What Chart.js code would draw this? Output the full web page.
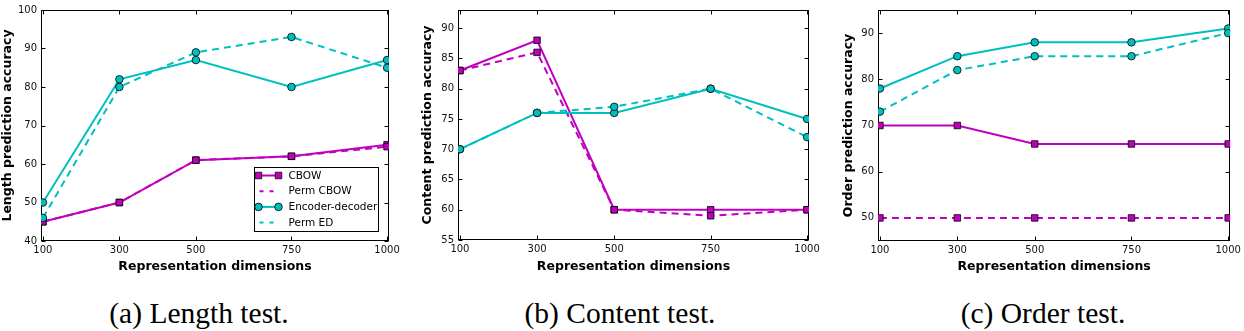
<!DOCTYPE html>
<html>
<head>
<meta charset="utf-8">
<script src="https://cdn.jsdelivr.net/npm/chart.js@4.4.1/dist/chart.umd.min.js"></script>
<style>
  body { margin: 0; background: #fff; width: 1244px; height: 331px; position: relative; overflow: hidden; }
  .panel { position: absolute; top: 0; }
  .cap { position: absolute; top: 299px; font-family: 'Liberation Serif', 'Times New Roman', serif; font-size: 29.5px; line-height: 28px; white-space: nowrap; transform: translateX(-50%); color: #000; }
</style>
</head>
<body>
<div class="panel" style="left:0px"><canvas id="c1" width="410" height="290"></canvas></div>
<div class="panel" style="left:410px"><canvas id="c2" width="420" height="290"></canvas></div>
<div class="panel" style="left:830px"><canvas id="c3" width="414" height="290"></canvas></div>
<div class="cap" style="left:199px">(a) Length test.</div>
<div class="cap" style="left:620px">(b) Content test.</div>
<div class="cap" style="left:1043px">(c) Order test.</div>
<script>
// x positions (representation dimensions)
const dims = [100, 300, 500, 750, 1000];
const seriesNames = ['CBOW', 'Perm CBOW', 'Encoder-decoder', 'Perm ED'];

// (a) length test
const lengthCbow = [45, 50, 61, 62, 65];
const lengthPermCbow = [45, 50, 61, 62, 64.5];
const lengthEncDec = [50, 82, 87, 80, 87];
const lengthPermEd = [46, 80, 89, 93, 85];
const lengthTicks = [40, 50, 60, 70, 80, 90, 100];

// (b) content test
const contentCbow = [83, 88, 60, 60, 60];
const contentPermCbow = [83, 86, 60, 59, 60];
const contentEncDec = [70, 76, 76, 80, 75];
const contentPermEd = [70, 76, 77, 80, 72];
const contentTicks = [55, 60, 65, 70, 75, 80, 85, 90];

// (c) order test
const orderCbow = [70, 70, 66, 66, 66];
const orderPermCbow = [50, 50, 50, 50, 50];
const orderEncDec = [78, 85, 88, 88, 91];
const orderPermEd = [73, 82, 85, 85, 90];
const orderTicks = [50, 60, 70, 80, 90];

const MAG = '#bf00bf';
const CYAN = '#00bfbf';
const DASH = [7, 5];

const styles = [
  { color: MAG, dash: [], marker: 'rect', r: 4.6 },
  { color: MAG, dash: DASH, marker: 'rect', r: 4.6 },
  { color: CYAN, dash: [], marker: 'circle', r: 3.8 },
  { color: CYAN, dash: DASH, marker: 'circle', r: 3.8 }
];

function makeDatasets(series) {
  return series.map((vals, i) => ({
    label: seriesNames[i],
    data: dims.map((x, j) => ({ x: x, y: vals[j] })),
    borderColor: styles[i].color,
    backgroundColor: styles[i].color,
    borderWidth: 2,
    borderDash: styles[i].dash,
    pointStyle: styles[i].marker,
    pointRadius: styles[i].r,
    pointBackgroundColor: styles[i].color,
    pointBorderColor: '#000',
    pointBorderWidth: 0.8,
    tension: 0,
    order: -i
  }));
}

// box around the plot + inward ticks on every side
const framePlugin = {
  id: 'frame',
  beforeDatasetsDraw(chart) {
    const { ctx, chartArea: a, scales } = chart;
    const L = Math.round(a.left) + 0.5, R = Math.round(a.right) - 0.5;
    const T = Math.round(a.top) + 0.5, B = Math.round(a.bottom) - 0.5;
    ctx.save();
    ctx.strokeStyle = '#000';
    ctx.lineWidth = 1;
    ctx.strokeRect(L, T, R - L, B - T);
    ctx.beginPath();
    scales.x.ticks.forEach(t => {
      const px = Math.round(scales.x.getPixelForValue(t.value)) + 0.5;
      ctx.moveTo(px, B); ctx.lineTo(px, B - 4);
      ctx.moveTo(px, T); ctx.lineTo(px, T + 4);
    });
    scales.y.ticks.forEach(t => {
      const py = Math.round(scales.y.getPixelForValue(t.value)) + 0.5;
      ctx.moveTo(L, py); ctx.lineTo(L + 4, py);
      ctx.moveTo(R, py); ctx.lineTo(R - 4, py);
    });
    ctx.stroke();
    ctx.restore();
  }
};

function marker(ctx, st, x, y) {
  ctx.beginPath();
  if (st.marker === 'rect') {
    const s = Math.SQRT1_2 * st.r;
    ctx.rect(x - s, y - s, 2 * s, 2 * s);
  } else {
    ctx.arc(x, y, st.r, 0, Math.PI * 2);
  }
  ctx.fillStyle = st.color;
  ctx.fill();
  ctx.lineWidth = 0.8;
  ctx.strokeStyle = '#000';
  ctx.stroke();
}

// legend box in panel (a), lower right
const legendPlugin = {
  id: 'boxLegend',
  afterDatasetsDraw(chart) {
    const { ctx, chartArea: a } = chart;
    const left = Math.round(a.right) - 135 + 0.5, right = Math.round(a.right) - 11 + 0.5;
    const bottom = Math.round(a.bottom) - 10 + 0.5, top = bottom - 64;
    ctx.save();
    ctx.fillStyle = '#fff';
    ctx.fillRect(left, top, right - left, bottom - top);
    ctx.strokeStyle = '#000';
    ctx.lineWidth = 1;
    ctx.strokeRect(left, top, right - left, bottom - top);
    ctx.font = '10.5px "DejaVu Sans"';
    ctx.textBaseline = 'middle';
    seriesNames.forEach((name, i) => {
      const st = styles[i];
      const y = top + 8 + i * 15.7;
      const x0 = left + 4, x1 = left + 24;
      ctx.beginPath();
      ctx.setLineDash(st.dash.length ? [4, 6] : []);
      ctx.strokeStyle = st.color;
      ctx.lineWidth = 2;
      if (st.dash.length) { ctx.moveTo(x0 + 1, y); ctx.lineTo(x1 + 1, y); }
      else { ctx.moveTo(x0, y); ctx.lineTo(x1, y); }
      ctx.stroke();
      ctx.setLineDash([]);
      if (!st.dash.length) { marker(ctx, st, x0, y); marker(ctx, st, x1, y); }
      ctx.fillStyle = '#000';
      ctx.fillText(name, left + 34, y + 0.5);
    });
    ctx.restore();
  }
};

function makeChart(id, series, yTitle, yMin, yMax, yTicks, box, legend) {
  const tickFont = { family: 'DejaVu Sans', size: 10 };
  const titleFont = { family: 'DejaVu Sans', size: 12.5, weight: 'bold' };
  return new Chart(document.getElementById(id), {
    type: 'line',
    data: { datasets: makeDatasets(series) },
    options: {
      responsive: false,
      animation: false,
      layout: { padding: { left: 0, top: box.top, right: box.right, bottom: 0 } },
      plugins: { legend: { display: false }, tooltip: { enabled: false } },
      scales: {
        x: {
          type: 'linear', min: 95, max: 1005,
          grid: { display: false, drawTicks: false },
          border: { display: false },
          afterBuildTicks: s => { s.ticks = dims.map(v => ({ value: v })); },
          afterFit: s => { s.height = box.xh; },
          ticks: { font: tickFont, color: '#111', padding: 3, maxRotation: 0, autoSkip: false, callback: v => String(v) },
          title: { display: true, text: 'Representation dimensions', font: titleFont, color: '#000', padding: { top: 0, bottom: box.xt } }
        },
        y: {
          type: 'linear', min: yMin, max: yMax,
          grid: { display: false, drawTicks: false },
          border: { display: false },
          afterBuildTicks: s => { s.ticks = yTicks.map(v => ({ value: v })); },
          afterFit: s => { s.width = box.yw; },
          ticks: { font: tickFont, color: '#111', padding: 4, callback: v => String(v) },
          title: { display: true, text: yTitle, font: titleFont, color: '#000', padding: { top: box.yt, bottom: 0 } }
        }
      }
    },
    plugins: legend ? [framePlugin, legendPlugin] : [framePlugin]
  });
}

makeChart('c1', [lengthCbow, lengthPermCbow, lengthEncDec, lengthPermEd], 'Length prediction accuracy',
  40, 100, lengthTicks, { top: 9, right: 21, xh: 49, yw: 41, xt: 15.5, yt: 0.5 }, true);
makeChart('c2', [contentCbow, contentPermCbow, contentEncDec, contentPermEd], 'Content prediction accuracy',
  55, 93, contentTicks, { top: 4, right: 21, xh: 50, yw: 48, xt: 15.5, yt: 10.5 }, false);
makeChart('c3', [orderCbow, orderPermCbow, orderEncDec, orderPermEd], 'Order prediction accuracy',
  45, 95, orderTicks, { top: 4, right: 13, xh: 49, yw: 48, xt: 15.5, yt: 11.5 }, false);
</script>
</body>
</html>
